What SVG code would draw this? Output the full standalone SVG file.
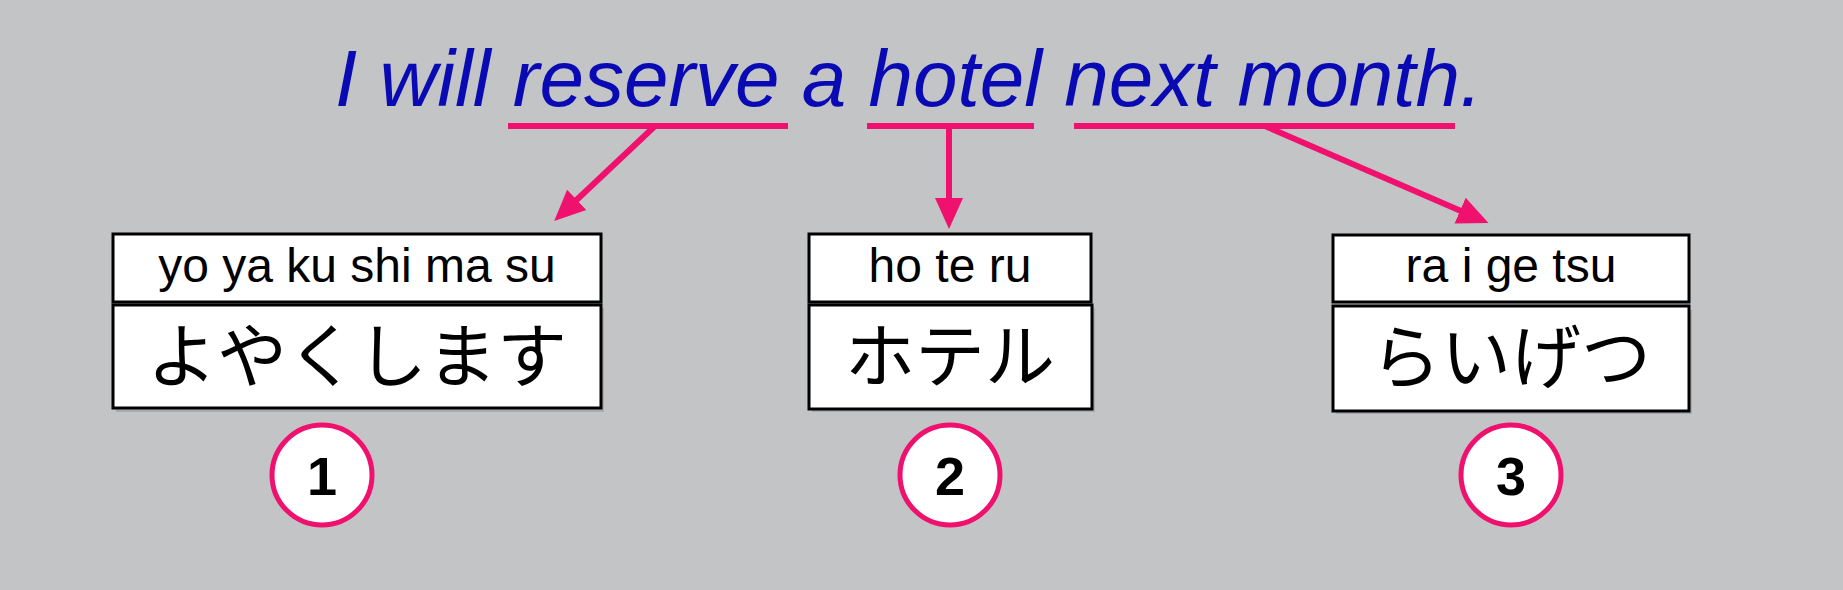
<svg xmlns="http://www.w3.org/2000/svg" width="1843" height="590" viewBox="0 0 1843 590">
<defs>
<style>
.bg{fill:#C3C4C6}
.title{font-family:"Liberation Sans",Arial,sans-serif;font-style:italic;font-size:80px;fill:#0A0AB4}
.ul{stroke:#F0116E;stroke-width:6;fill:none}
.conn{stroke:#F0116E;stroke-width:6;fill:none}
.box{fill:#FFFFFF;stroke:#000000;stroke-width:3}
.shadow{fill:#9A9B9E;opacity:0.6}
.romaji{font-family:"Liberation Sans",Arial,sans-serif;font-size:48px;fill:#000;text-anchor:middle}
.kana{font-family:"Noto Sans CJK JP","Noto Sans CJK SC",sans-serif;font-size:70px;fill:#000;text-anchor:middle}
.circ{fill:#FFFFFF;stroke:#F0116E;stroke-width:5}
.num{font-family:"Liberation Sans",Arial,sans-serif;font-weight:bold;font-size:54px;fill:#000;text-anchor:middle}
</style>
<marker id="ah" markerUnits="userSpaceOnUse" markerWidth="32" markerHeight="30" viewBox="0 -15 32 30" refX="1" refY="0" orient="auto">
<path d="M0,-14 L31,0 L0,14 z" fill="#F0116E"/>
</marker>
</defs>
<rect class="bg" x="0" y="0" width="1843" height="590"/>
<g id="sentence">
<text class="title" x="335" y="106">I will reserve a hotel next month.</text>
<line class="ul" x1="508" y1="126" x2="788" y2="126"/>
<line class="ul" x1="867" y1="126" x2="1034" y2="126"/>
<line class="ul" x1="1074" y1="126" x2="1455" y2="126"/>
</g>
<g id="connectors">
<line class="conn" x1="655" y1="126" x2="576" y2="200.5" marker-end="url(#ah)"/>
<line class="conn" x1="949" y1="126" x2="949" y2="199" marker-end="url(#ah)"/>
<line class="conn" x1="1265" y1="126" x2="1461" y2="211" marker-end="url(#ah)"/>
</g>
<g id="node1">
<rect class="shadow" x="116" y="308" width="488" height="104"/>
<rect class="box" x="113" y="234" width="488" height="68"/>
<rect class="box" x="113" y="305" width="488" height="103"/>
<text class="romaji" x="357" y="282">yo ya ku shi ma su</text>
<text class="kana" x="357" y="382">よやくします</text>
</g>
<g id="node2">
<rect class="shadow" x="812" y="308" width="283" height="104"/>
<rect class="box" x="809" y="234" width="282" height="68"/>
<rect class="box" x="809" y="305" width="283" height="104"/>
<text class="romaji" x="950" y="282">ho te ru</text>
<text class="kana" x="950" y="382">ホテル</text>
</g>
<g id="node3">
<rect class="shadow" x="1336" y="310" width="356" height="104"/>
<rect class="box" x="1333" y="235" width="356" height="67"/>
<rect class="box" x="1333" y="306" width="356" height="105"/>
<text class="romaji" x="1511" y="282">ra i ge tsu</text>
<text class="kana" x="1511" y="383">らいげつ</text>
</g>
<g id="badge1">
<circle class="circ" cx="322" cy="475" r="50"/>
<text class="num" x="322" y="495">1</text>
</g>
<g id="badge2">
<circle class="circ" cx="950" cy="475" r="50"/>
<text class="num" x="950" y="495">2</text>
</g>
<g id="badge3">
<circle class="circ" cx="1511" cy="475" r="50"/>
<text class="num" x="1511" y="495">3</text>
</g>
</svg>
